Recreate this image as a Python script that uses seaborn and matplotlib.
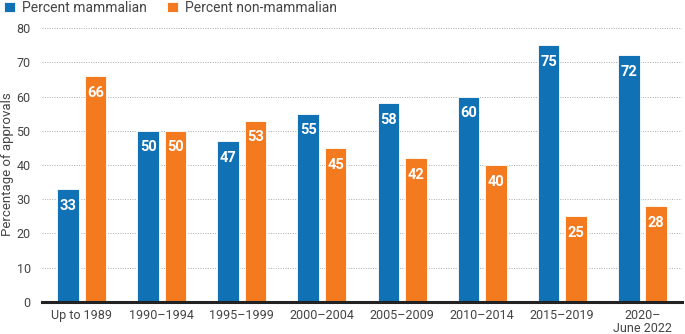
import seaborn as sns
import matplotlib.pyplot as plt
import pandas as pd
import numpy as np

# data
periods = ['Up to 1989', '1990–1994', '1995–1999', '2000–2004', '2005–2009',
           '2010–2014', '2015–2019', '2020–\nJune 2022']
mammalian = [33, 50, 47, 55, 58, 60, 75, 72]
non_mammalian = [66, 50, 53, 45, 42, 40, 25, 28]
series_names = ['Percent mammalian', 'Percent non-mammalian']
colors = ['#1071b5', '#f47a20']

df = pd.DataFrame({
    'period': periods * 2,
    'value': mammalian + non_mammalian,
    'series': [series_names[0]] * len(periods) + [series_names[1]] * len(periods),
})

sns.set_style('white')
plt.rcParams['font.family'] = ['Roboto', 'DejaVu Sans']

fig = plt.figure(figsize=(6.85, 3.34), dpi=100)
ax = fig.add_axes([0.061, 0.096, 0.935, 0.826])

sns.barplot(data=df, x='period', y='value', hue='series', palette=colors,
            saturation=1, width=0.68, gap=0.2, edgecolor='#ffffff', linewidth=0.6,
            ax=ax, zorder=3)

# value labels inside bar tops
for cont in ax.containers:
    ax.bar_label(cont, labels=[f'{v:.0f}' for v in cont.datavalues],
                 padding=-17, color='white', fontsize=10.5, fontweight='bold')

ax.set_ylim(0, 80.6)
ax.set_xlim(-0.5, len(periods) - 0.5)
ax.set_yticks(range(0, 81, 10))
ax.yaxis.grid(True, linestyle=(0, (1, 1.5)), color='#aaaaaa', linewidth=0.7, zorder=0)
ax.xaxis.grid(False)
ax.tick_params(axis='y', length=0, labelsize=9, colors='#444444', pad=8)
ax.tick_params(axis='x', which='major', length=0, labelsize=9, colors='#444444', pad=5)
for lab in ax.get_xticklabels():
    lab.set_linespacing(1.0)
ax.set_xticks(np.arange(-0.5, len(periods)), minor=True)
ax.tick_params(axis='x', which='minor', length=5, width=0.8, color='#888888')

for s in ['top', 'right', 'left']:
    ax.spines[s].set_visible(False)
ax.spines['bottom'].set_linewidth(2.2)
ax.spines['bottom'].set_color('#222222')
ax.spines['bottom'].set_zorder(4)

ax.set_xlabel('')
ax.set_ylabel('Percentage of approvals', fontsize=9.5, color='#444444')
ax.yaxis.set_label_coords(-0.044, 0.5)

ax.legend_.remove()
handles, labels = ax.get_legend_handles_labels()
fig.legend(handles, labels, loc='upper left', bbox_to_anchor=(-0.012, 1.035), ncol=2,
           frameon=False, fontsize=10, handlelength=0.8, handleheight=0.8,
           handletextpad=0.5, columnspacing=1.4, labelcolor='#444444')

fig.savefig('out.png', dpi=100)
